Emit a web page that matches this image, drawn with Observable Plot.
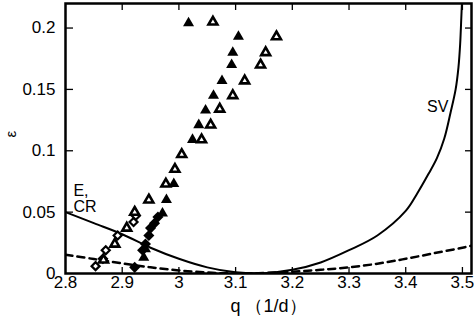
<!DOCTYPE html>
<html><head><meta charset="utf-8">
<script src="https://cdn.jsdelivr.net/npm/d3@7"></script>
<script src="https://cdn.jsdelivr.net/npm/@observablehq/plot@0.6"></script>
<style>body{margin:0;background:#fff}</style>
</head><body><div id="chart"></div>
<script>
// q (1/d), epsilon
const filledTriangles = [
  [3.017,0.204],[3.105,0.193],[3.095,0.180],[3.093,0.170],[3.076,0.157],
  [3.061,0.145],[3.047,0.133],[3.035,0.121],[3.024,0.109],[2.991,0.073],
  [2.978,0.060],[2.971,0.049],[2.941,0.020],[2.938,0.013]
];
const openTriangles = [
  [3.060,0.205],[3.172,0.193],[3.153,0.180],[3.144,0.170],[3.116,0.157],
  [3.095,0.145],[3.072,0.134],[3.056,0.121],[3.040,0.109],[3.005,0.097],
  [2.993,0.085],[2.977,0.073],[2.947,0.060],[2.922,0.050],[2.908,0.037],
  [2.887,0.024],[2.867,0.011]
];
const openDiamonds = [
  [2.853,0.006],[2.866,0.012],[2.871,0.019],[2.892,0.031],[2.920,0.042],[2.924,0.047]
];
const filledDiamonds = [
  [2.922,0.005],[2.936,0.019],[2.941,0.024],[2.947,0.031],[2.950,0.037],[2.957,0.041],[2.963,0.046]
];
const solidCurve = [
  [2.80,0.050],[2.85,0.041],[2.90,0.032],[2.95,0.021],[3.00,0.012],[3.05,0.005],
  [3.10,0.001],[3.15,0.0003],[3.20,0.003],[3.25,0.009],[3.30,0.019],[3.35,0.031],
  [3.40,0.051],[3.42,0.065],[3.44,0.081],[3.455,0.094],[3.468,0.110],[3.479,0.131],
  [3.488,0.150],[3.493,0.168],[3.496,0.187],[3.498,0.208],[3.4993,0.222]
];
const dashedCurve = [
  [2.80,0.0152],[2.85,0.0118],[2.90,0.0082],[2.95,0.0050],[3.00,0.0025],[3.05,0.0008],
  [3.10,0.0],[3.15,0.0004],[3.20,0.0015],[3.25,0.003],[3.30,0.005],[3.35,0.008],
  [3.40,0.012],[3.45,0.0165],[3.50,0.021],[3.516,0.0227]
];
const xTicks = [2.8,2.9,3.0,3.1,3.2,3.3,3.4,3.5];
const yTicks = [0,0.05,0.1,0.15,0.2];
const leftLabels = [
  {q:2.814, e:0.0674, t:"E,"},
  {q:2.814, e:0.0540, t:"CR"}
];
const rightLabels = [
  {q:3.4564, e:0.1356, t:"SV"}
];
const xLabel = "q （1/d）";
const yLabel = "ε";

const W = 474, H = 321, ML = 65, MR = 3, MT = 3, MB = 48;
const innerW = W - ML - MR, innerH = H - MT - MB;
const font = "'Liberation Sans', Arial, Helvetica, sans-serif";
const innerXTicks = xTicks.slice(1);
const innerYTicks = yTicks.slice(1);

const chart = Plot.plot({
  width: W, height: H,
  marginLeft: ML, marginRight: MR, marginTop: MT, marginBottom: MB,
  style: {fontFamily: font, fontSize: "17px", color: "#000", background: "#fff", overflow: "visible"},
  x: {domain: [2.8, 3.516]},
  y: {domain: [0, 0.22]},
  marks: [
    Plot.axisX({ticks: xTicks, tickFormat: d => String(d), tickSize: 0, tickPadding: 2,
      label: null, fontSize: 17}),
    Plot.axisY({ticks: yTicks, tickFormat: d => String(d), tickSize: 0, tickPadding: 10,
      label: null, fontSize: 17}),
    Plot.text([xLabel], {text: d => d, frameAnchor: "bottom", dy: 38, fontSize: 18, fill: "black"}),
    Plot.text([yLabel], {text: d => d, frameAnchor: "left", dx: -54, dy: -1, rotate: -90, fontSize: 15, fill: "black"}),
    // inward ticks on all four sides
    Plot.tickX(innerXTicks, {x: d => d, insetBottom: innerH - 7, stroke: "black", strokeWidth: 1.3}),
    Plot.tickX(innerXTicks, {x: d => d, insetTop: innerH - 6, stroke: "black", strokeWidth: 1.3}),
    Plot.tickY(innerYTicks, {y: d => d, insetRight: innerW - 8, stroke: "black", strokeWidth: 1.3}),
    Plot.tickY(innerYTicks, {y: d => d, insetLeft: innerW - 6, stroke: "black", strokeWidth: 1.3}),
    Plot.line(dashedCurve, {x: d => d[0], y: d => d[1], stroke: "black", strokeWidth: 2.5,
      strokeDasharray: "7,5", curve: "catmull-rom", clip: true}),
    Plot.line(solidCurve, {x: d => d[0], y: d => d[1], stroke: "black", strokeWidth: 2,
      curve: "catmull-rom", clip: true}),
    Plot.dot(openDiamonds, {x: d => d[0], y: d => d[1], symbol: "diamond2", r: 3.6, fill: "white", stroke: "black", strokeWidth: 2.2}),
    Plot.dot(filledDiamonds, {x: d => d[0], y: d => d[1], symbol: "diamond2", r: 5, fill: "black", stroke: "none"}),
    Plot.dot(openTriangles, {x: d => d[0], y: d => d[1], symbol: "triangle", r: 3.3, fill: "white", stroke: "black", strokeWidth: 2.6}),
    Plot.dot(filledTriangles, {x: d => d[0], y: d => d[1], symbol: "triangle", r: 4.1, fill: "black", stroke: "none"}),
    Plot.text(leftLabels, {x: "q", y: "e", text: "t", textAnchor: "start", fontSize: 16, fill: "black"}),
    Plot.text(rightLabels, {x: "q", y: "e", text: "t", textAnchor: "middle", fontSize: 16, fill: "black"}),
    Plot.frame({stroke: "black", strokeWidth: 2.5})
  ]
});
document.getElementById("chart").appendChild(chart);
</script>
</body></html>
